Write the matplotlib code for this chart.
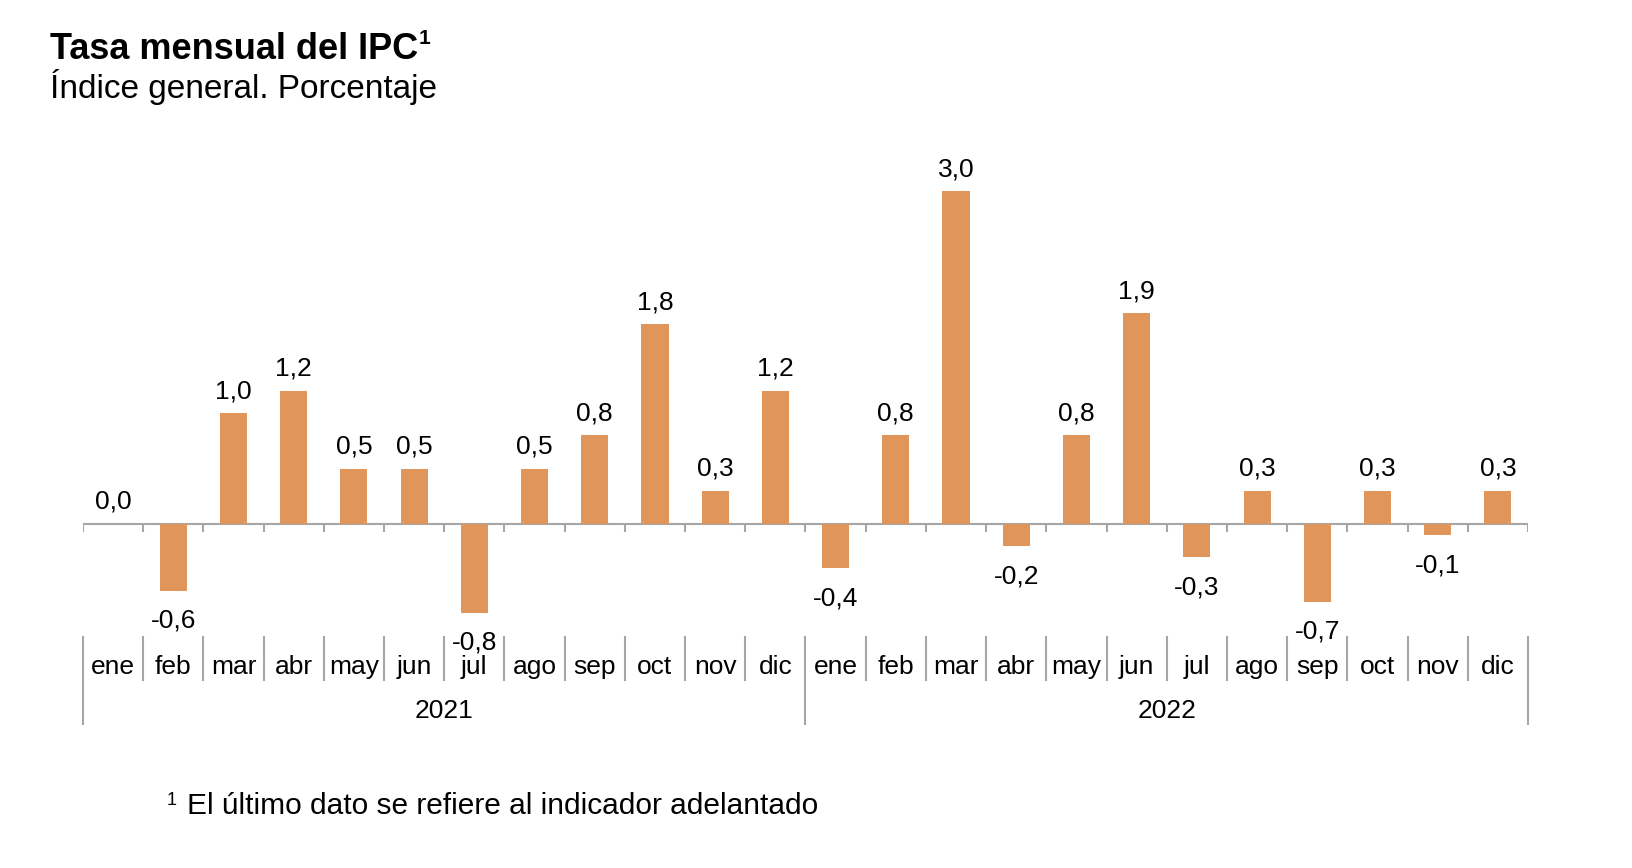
import matplotlib
matplotlib.use("Agg")
import matplotlib.pyplot as plt
from matplotlib.transforms import blended_transform_factory
from matplotlib.lines import Line2D

plt.rcParams['font.family'] = ['Liberation Sans', 'DejaVu Sans']

months = ["ene", "feb", "mar", "abr", "may", "jun", "jul", "ago", "sep", "oct", "nov", "dic"]
years = ["2021", "2022"]
values_2021 = [0.0, -0.6, 1.0, 1.2, 0.5, 0.5, -0.8, 0.5, 0.8, 1.8, 0.3, 1.2]
values_2022 = [-0.4, 0.8, 3.0, -0.2, 0.8, 1.9, -0.3, 0.3, -0.7, 0.3, -0.1, 0.3]

values = values_2021 + values_2022
labels = months * len(years)
n = len(values)
xs = list(range(n))

W, H = 1632, 868
fig = plt.figure(figsize=(W / 100, H / 100), dpi=100)

# axes: x from 83 to 1528 px; zero line at y=524 px, ~111 px per unit
ymin, ymax = -1.0, 3.5
ppu = 111.0
y0 = 524
top_px = y0 - ymax * ppu
bot_px = y0 - ymin * ppu
ax = fig.add_axes([83 / W, (H - bot_px) / H, (1528 - 83) / W, (bot_px - top_px) / H])
ax.set_xlim(-0.5, n - 0.5)
ax.set_ylim(ymin, ymax)
ax.axis('off')

bar_color = '#E0965A'
grey = '#A6A6A6'
ax.bar(xs, values, width=0.45, color=bar_color, zorder=2)

# zero line and ticks
ax.axhline(0, color=grey, lw=1.5, zorder=1)
tick_len = 8 / ppu
for i in range(n + 1):
    ax.plot([i - 0.5, i - 0.5], [0, -tick_len], color=grey, lw=1.5, solid_capstyle='butt', zorder=1)

# value labels
off_pos = 22 / ppu
off_neg = 30 / ppu
for x, v in zip(xs, values):
    txt = f"{v:.1f}".replace('.', ',')
    if v >= 0:
        ax.text(x, v + off_pos, txt, ha='center', va='center', fontsize=19, color='black')
    else:
        ax.text(x, v - off_neg, txt, ha='center', va='center', fontsize=19, color='black')

# category axis below
tr = blended_transform_factory(ax.transData, fig.transFigure)
def fy(px):
    return 1 - px / H

for i in range(n + 1):
    if i % 12 == 0:
        y_top, y_bot = 637, 724
    else:
        y_top, y_bot = 637, 680
    fig.add_artist(Line2D([i - 0.5, i - 0.5], [fy(y_top), fy(y_bot)], transform=tr, color=grey, lw=1.5))

for x, lab in zip(xs, labels):
    fig.text(x, fy(667), lab, transform=tr, ha='center', va='center', fontsize=19, color='black')

for k, yr in enumerate(years):
    xc = k * 12 + 5.5
    fig.text(xc, fy(711), yr, transform=tr, ha='center', va='center', fontsize=19, color='black')

# titles
t = fig.text(50 / W, fy(59), "Tasa mensual del IPC", ha='left', va='baseline', fontsize=26, fontweight='bold')
fig.canvas.draw()
bb = t.get_window_extent()
fig.text((bb.x1 + 1) / W, fy(44), "1", ha='left', va='baseline', fontsize=15, fontweight='bold')
fig.text(50 / W, fy(98), "Índice general. Porcentaje", ha='left', va='baseline', fontsize=24)

# footnote
fig.text(167 / W, fy(805), "1", ha='left', va='baseline', fontsize=13)
fig.text(187 / W, fy(814), "El último dato se refiere al indicador adelantado", ha='left', va='baseline', fontsize=21.5)

fig.savefig("out.png", dpi=100, facecolor='white')
